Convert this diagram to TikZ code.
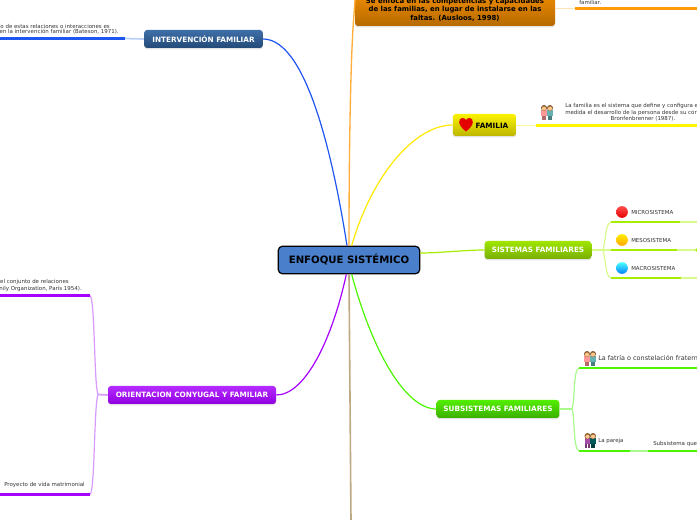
\documentclass[tikz,border=0pt]{standalone}
\usepackage{fontspec}
\setmainfont{DejaVu Sans}
\usetikzlibrary{shadows}
\definecolor{cBlue}{HTML}{1F55F0}
\definecolor{cBlueL}{HTML}{BBD0FA}
\definecolor{cOrange}{HTML}{FF9A0A}
\definecolor{cOrangeL}{HTML}{FFE3B8}
\definecolor{cYellow}{HTML}{FFF500}
\definecolor{cYellowL}{HTML}{FFFA9E}
\definecolor{cLime}{HTML}{A6EE00}
\definecolor{cLimeL}{HTML}{D8FB8C}
\definecolor{cGreen}{HTML}{4CF500}
\definecolor{cGreenL}{HTML}{A8FA8C}
\definecolor{cPurple}{HTML}{A800FF}
\definecolor{cPurpleL}{HTML}{D79AFF}
\definecolor{cBrown}{HTML}{B39A70}
\definecolor{cTxt}{HTML}{333333}
\definecolor{cCentre}{HTML}{4A7FCB}
\definecolor{cIntA}{HTML}{3F6FA8}
\definecolor{cIntB}{HTML}{234A78}
\definecolor{cOrA}{HTML}{F08C00}
\definecolor{cOrB}{HTML}{B56A00}
\definecolor{cYA}{HTML}{FBF200}
\definecolor{cYB}{HTML}{BDB600}
\definecolor{cLimA}{HTML}{A0E600}
\definecolor{cLimB}{HTML}{78AE00}
\definecolor{cGrA}{HTML}{52EE00}
\definecolor{cGrB}{HTML}{3CAE00}
\definecolor{cPuA}{HTML}{B52BFF}
\definecolor{cPuB}{HTML}{9000E0}
\tikzset{
  x=0.75pt,y=-0.75pt,
  mainbox/.style={rounded corners=2.2pt,inner sep=0pt,align=center,
    drop shadow={opacity=.22,shadow xshift=0pt,shadow yshift=-1pt}},
  boxfont/.style={font=\fontsize{5.47pt}{6.4pt}\selectfont\bfseries},
  conn/.style={line width=0.9pt},
  heavy/.style={line width=1.6pt},
  soft/.style={line width=1.3pt},
  softcurve/.style={line width=0.9pt},
  small/.style={inner sep=0pt,text=cTxt,font=\fontsize{4.1pt}{5.2pt}\selectfont},
  person/.pic={
    \fill[#1] (-2.6,-1.5) rectangle (2.6,4.5);
    \fill[#1!70!black] (-2.4,4.5) rectangle (-0.4,8);
    \fill[#1!70!black] (0.4,4.5) rectangle (2.4,8);
    \fill[brown!70!black] (0,-4) circle (3);
    \fill[orange!45!white] (0,-3.4) circle (2.1);
  },
  ball/.style={circle,minimum size=8.8pt,inner sep=0pt}
}
\begin{document}
\begin{tikzpicture}
\useasboundingbox (0,0) rectangle (697,520);
\clip (0,0) rectangle (697,520);

% main nodes
\node[draw=black,line width=0.9pt,rounded corners=3pt,fill=cCentre,minimum width=106pt,minimum height=20.6pt,inner sep=0pt,font=\fontsize{7.6pt}{10pt}\selectfont\bfseries,text=black] (c) at (349,260) {ENFOQUE SISTÉMICO};
\node[mainbox,boxfont,top color=cIntA,bottom color=cIntB,minimum width=89pt,minimum height=13.5pt,text=white] (int) at (203.5,39) {INTERVENCIÓN FAMILIAR};
\node[mainbox,top color=cOrA,bottom color=cOrB,minimum width=150pt,minimum height=24.7pt,text=black,font=\fontsize{5.2pt}{6.4pt}\selectfont\bfseries] (ora) at (455,9.5) {Se enfoca en las competencias y capacidades\\de las familias, en lugar de instalarse en las\\faltas. (Ausloos, 1998)};
\node[mainbox,top color=cYA,bottom color=cYB,minimum width=47.5pt,minimum height=16.5pt,text=black] (fam) at (484.5,125) {};
\node[boxfont,inner sep=0pt] (famt) at (492,125.5) {FAMILIA};
\node[mainbox,boxfont,top color=cLimA,bottom color=cLimB,minimum width=80pt,minimum height=13.5pt,text=white] (sis) at (538,250) {SISTEMAS FAMILIARES};
\node[mainbox,boxfont,top color=cGrA,bottom color=cGrB,minimum width=92pt,minimum height=13.5pt,text=white] (sub) at (498,409) {SUBSISTEMAS FAMILIARES};
\node[mainbox,boxfont,top color=cPuA,bottom color=cPuB,minimum width=126pt,minimum height=13.5pt,text=white] (ori) at (192,395) {ORIENTACION CONYUGAL Y FAMILIAR};

% free ends of the branches
\coordinate (iA) at (125,38.5);  \coordinate (iB) at (0,38.5);
\coordinate (oS) at (555,8.5);   \coordinate (oA) at (575,8.5);   \coordinate (oB) at (697,8.5);
\coordinate (fS) at (516,125.5); \coordinate (fA) at (536,125.5); \coordinate (fB) at (697,125.5);
\coordinate (cE) at (420,253);   \coordinate (oT) at (355,0);     \coordinate (oM) at (353,28);
\coordinate (sJ) at (603,250);
\coordinate (m1) at (611,222);   \coordinate (m1e) at (680,222);   \coordinate (m1x) at (697,222);
\coordinate (m2) at (611,250);   \coordinate (m2e) at (677,250);   \coordinate (m2x) at (697,250);
\coordinate (m3) at (611,278);   \coordinate (m3e) at (681,278);   \coordinate (m3x) at (697,278);
\coordinate (uJ) at (572,409);
\coordinate (u1) at (579,368);   \coordinate (u1e) at (697,368);
\coordinate (u2) at (579,451);   \coordinate (u2e) at (630,451);
\coordinate (u3) at (648,451);   \coordinate (u3x) at (697,451);
\coordinate (pJ) at (98,394.5);
\coordinate (p1) at (90,295.5);  \coordinate (p1e) at (0,295.5);
\coordinate (p2) at (90,494.5);  \coordinate (p2e) at (0,494.5);
\coordinate (brownEnd) at (351,520);

% connectors from the centre
\draw[conn,cBlue] ([xshift=-1.5pt]c.north) .. controls (332,150) and (305,39) .. (int.east);
\draw[line width=1pt,cOrange!80!white] (c.north) .. controls (349,170) and (350,80) .. (oM) -- (oT);
\draw[conn,cYellow!90!orange] ([xshift=2pt]c.north) .. controls (372,175) and (415,125) .. (fam.west);
\draw[conn,cLime] (cE) .. controls (440,253) and (465,250) .. (sis.west);
\draw[conn,cGreen] ([xshift=2pt]c.south) .. controls (372,350) and (405,409) .. (sub.west);
\draw[conn,cPurple] ([xshift=-2pt]c.south) .. controls (332,340) and (305,395) .. (ori.east);
\draw[line width=1.2pt,cBrown!85!white] (c.south) -- (brownEnd);

% intervencion
\draw[soft,cBlueL] (int.west) -- (iA);
\draw[heavy,cBlue] (iA) -- (iB);
% orange
\draw[soft,cOrangeL] (oS) -- (oA);
\draw[heavy,cOrange] (oA) -- (oB);
% familia
\draw[soft,cYellowL] (fS) -- (fA);
\draw[heavy,cYellow] (fA) -- (fB);
% sistemas
\draw[soft,cLimeL] (sis.east) -- (sJ);
\draw[softcurve,cLimeL] (sJ) .. controls (606,240) and (605,224) .. (m1);
\draw[softcurve,cLimeL] (sJ) -- (m2);
\draw[softcurve,cLimeL] (sJ) .. controls (606,260) and (605,276) .. (m3);
\draw[heavy,cLime] (m1) -- (m1e);
\draw[heavy,cLime] (m2) -- (m2e);
\draw[heavy,cLime] (m3) -- (m3e);
\draw[softcurve,cLimeL] (m1e) -- (m1x);
\draw[softcurve,cLimeL] (m2e) -- (m2x);
\draw[softcurve,cLimeL] (m3e) -- (m3x);
\fill[cLime] (m2x) circle (1.8);
% subsistemas
\draw[soft,cGreenL] (sub.east) -- (uJ);
\draw[softcurve,cGreenL] (uJ) .. controls (575,402) and (573,370) .. (u1);
\draw[softcurve,cGreenL] (uJ) .. controls (575,416) and (573,449) .. (u2);
\draw[heavy,cGreen] (u1) -- (u1e);
\draw[heavy,cGreen] (u2) -- (u2e);
\draw[soft,cGreenL] (u2e) -- (u3);
\draw[heavy,cGreen] (u3) -- (u3x);
% orientacion
\draw[soft,cPurpleL] (ori.west) -- (pJ);
\draw[softcurve,cPurpleL] (pJ) .. controls (94,385) and (95,298) .. (p1);
\draw[softcurve,cPurpleL] (pJ) .. controls (94,404) and (95,491) .. (p2);
\draw[heavy,cPurple] (p1) -- (p1e);
\draw[heavy,cPurple] (p2) -- (p2e);

% heart
\fill[red!90!black] (466,131.5) .. controls (457,125) and (458,118) .. (462.5,118) .. controls (465,118) and (466,119.5) .. (466,120.5) .. controls (466,119.5) and (467,118) .. (469.5,118) .. controls (474,118) and (475,125) .. (466,131.5) -- cycle;

% people icons
\pic at (544,112) {person=pink!80!red};
\pic at (550,112) {person=teal!60!white};
\pic at (587,358) {person=pink!80!red};
\pic at (593,358) {person=teal!60!white};
\pic at (587.5,440) {person=violet!70!white};
\pic at (593,440) {person=teal!70!black};

% balls
\node[ball,top color=red!70!white,bottom color=red!90!black] (b1) at (622,212) {};
\node[ball,top color=yellow!85!orange,bottom color=orange!70!yellow] (b2) at (622,240) {};
\node[ball,top color=cyan!70!white,bottom color=blue!50!cyan] (b3) at (622,268) {};

% small texts
\node[small,anchor=east] (t1) at (110,26) {o de estas relaciones o interacciones es};
\node[small,anchor=east] (t2) at (119,32) {en la intervención familiar (Bateson, 1971).};
\node[small,anchor=west] (t3) at (579,2) {familiar.};
\node[small,anchor=west] (t4) at (565,106) {La familia es el sistema que define y configura e};
\node[small,anchor=west] (t5) at (565,112.5) {medida el desarrollo de la persona desde su cor};
\node[small] (t6) at (643,119) {Bronfenbrenner (1987).};
\node[small,anchor=west] (t7) at (631,213) {MICROSISTEMA};
\node[small,anchor=west] (t8) at (631,240.5) {MESOSISTEMA};
\node[small,anchor=west] (t9) at (631,269) {MACROSISTEMA};
\node[inner sep=0pt,anchor=west,text=cTxt,font=\fontsize{4.85pt}{6pt}\selectfont] (t10) at (598,358) {La fatría o constelación fratern};
\node[small,anchor=west] (t11) at (598,441) {La pareja};
\node[small,anchor=west] (t12) at (653,444) {Subsistema que};
\node[small,anchor=east] (t13) at (69,282) {el conjunto de relaciones};
\node[small,anchor=east] (t14) at (82,289) {nily Organization, Paris 1954).};
\node[small,anchor=west] (t15) at (4,485) {Proyecto de vida matrimonial};
\end{tikzpicture}
\end{document}
